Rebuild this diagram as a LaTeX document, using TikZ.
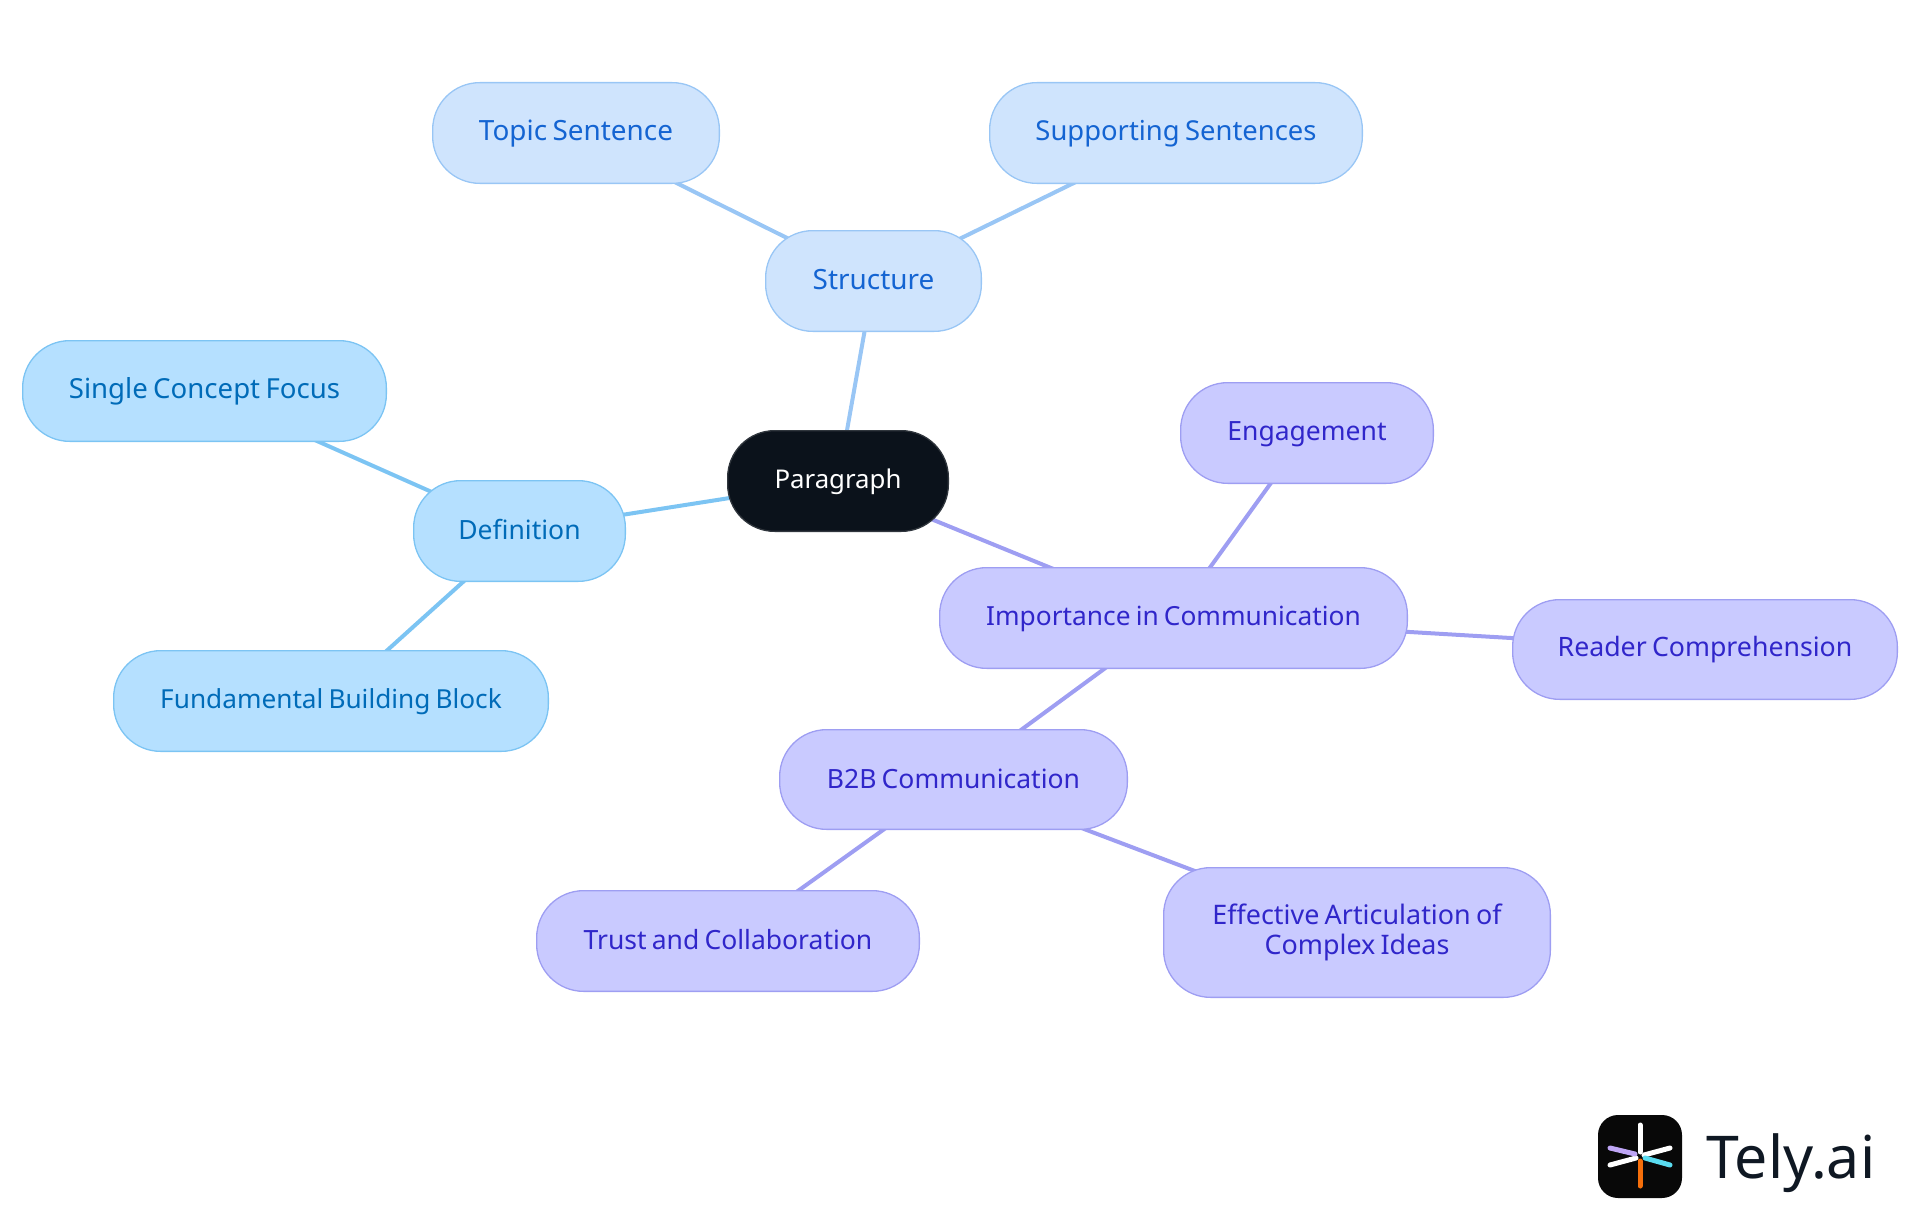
\documentclass[tikz,border=0pt]{standalone}
\usepackage{fontspec}
\setmainfont{Noto Sans}[WordSpace=0.75]
\usetikzlibrary{backgrounds}
\definecolor{defFill}{HTML}{B5E0FF}
\definecolor{defLine}{HTML}{7CC4F3}
\definecolor{defText}{HTML}{006BB8}
\definecolor{strFill}{HTML}{CFE4FD}
\definecolor{strLine}{HTML}{99C6F5}
\definecolor{strText}{HTML}{1464D2}
\definecolor{impFill}{HTML}{C9CAFF}
\definecolor{impLine}{HTML}{9E9EF2}
\definecolor{impText}{HTML}{3026CA}
\definecolor{rootFill}{HTML}{0B121B}
\definecolor{logoInk}{HTML}{0F1823}
\newcommand{\mmstrut}{\rule[-4pt]{0pt}{25pt}}
\newcommand{\mmnode}[7]{% name, style, x0, x1, y0, y1, text
  \node[#2, minimum width=#4pt-#3pt-1.3pt, minimum height=#6pt-#5pt-1.3pt] (#1) at ({(#3+#4)/2},{(#5+#6)/2}) {\mmstrut #7};}
\tikzset{
  x=1pt,y=-1pt,
  txt/.style={font=\fontsize{#1}{30}\selectfont},
  mm/.style={rectangle, rounded corners=47pt, line width=1.3pt, inner sep=0pt, align=center, txt=26.5},
  rootbox/.style={mm, fill=rootFill, draw=rootFill!85!white, text=white},
  defbox/.style={mm, fill=defFill, draw=defLine, text=defText},
  strbox/.style={mm, fill=strFill, draw=strLine, text=strText},
  impbox/.style={mm, fill=impFill, draw=impLine, text=impText},
  defedge/.style={line width=4pt, draw=defLine},
  stredge/.style={line width=4pt, draw=strLine},
  impedge/.style={line width=4pt, draw=impLine},
  spoke/.style={line width=5pt, line cap=round},
}
\begin{document}
\begin{tikzpicture}
\useasboundingbox (0,0) rectangle (1920,1215);
\mmnode{root}{rootbox,txt=25.8}{727}{949}{430}{532}{Paragraph}
\mmnode{structure}{strbox,txt=27.9}{765}{982}{230}{332}{Structure}
\mmnode{topic}{strbox,txt=27.9}{432}{720}{82}{184}{Topic Sentence}
\mmnode{support}{strbox,txt=27.4}{989}{1363}{82}{184}{Supporting Sentences}
\mmnode{definition}{defbox}{413}{626}{480}{582}{Definition}
\mmnode{single}{defbox,txt=27.6}{22}{387}{340}{442}{Single Concept Focus}
\mmnode{fund}{defbox,txt=26.2}{113}{549}{650}{752}{Fundamental Building Block}
\mmnode{imp}{impbox,txt=26.3}{939}{1408}{567}{669}{Importance in Communication}
\mmnode{engage}{impbox}{1180}{1434}{382}{484}{Engagement}
\mmnode{reader}{impbox,txt=26.7}{1512}{1898}{599}{700}{Reader Comprehension}
\mmnode{b2b}{impbox}{779}{1128}{729}{830}{B2B Communication}
\mmnode{trust}{impbox}{536}{920}{890}{992}{Trust and Collaboration}
\mmnode{effective}{impbox,txt=26.9}{1163}{1551}{867}{998}{Effective Articulation of\\\mmstrut Complex Ideas}
\begin{scope}[on background layer]
\draw[stredge] (root.center) -- (structure.center);
\draw[stredge] (structure.center) -- (topic.center);
\draw[stredge] (structure.center) -- (support.center);
\draw[defedge] (root.center) -- (definition.center);
\draw[defedge] (definition.center) -- (single.center);
\draw[defedge] (definition.center) -- (fund.center);
\draw[impedge] (root.center) -- (imp.center);
\draw[impedge] (imp.center) -- (engage.center);
\draw[impedge] (imp.center) -- (reader.center);
\draw[impedge] (imp.center) -- (b2b.center);
\draw[impedge] (b2b.center) -- (trust.center);
\draw[impedge] (b2b.center) -- (effective.center);
\end{scope}
% logo
\fill[black!97!white, rounded corners=20pt] (1598,1115) rectangle (1682,1198);
\draw[spoke, white] (1640,1152) -- (1640,1125);
\draw[spoke, white] (1644,1155) -- (1670,1148);
\draw[spoke, white] (1636,1158) -- (1610,1165);
\draw[spoke, color={rgb,255:red,190;green,165;blue,245}] (1635,1154) -- (1610,1148);
\draw[spoke, color={rgb,255:red,90;green,220;blue,240}] (1645,1158) -- (1670,1165);
\draw[spoke, color={rgb,255:red,245;green,110;blue,10}] (1640,1161) -- (1640,1186);
\node[anchor=base west, inner sep=0pt, text=logoInk, font=\fontsize{59}{60}\selectfont] (logotext) at (1706,1178) {Tely.ai};
\end{tikzpicture}
\end{document}
